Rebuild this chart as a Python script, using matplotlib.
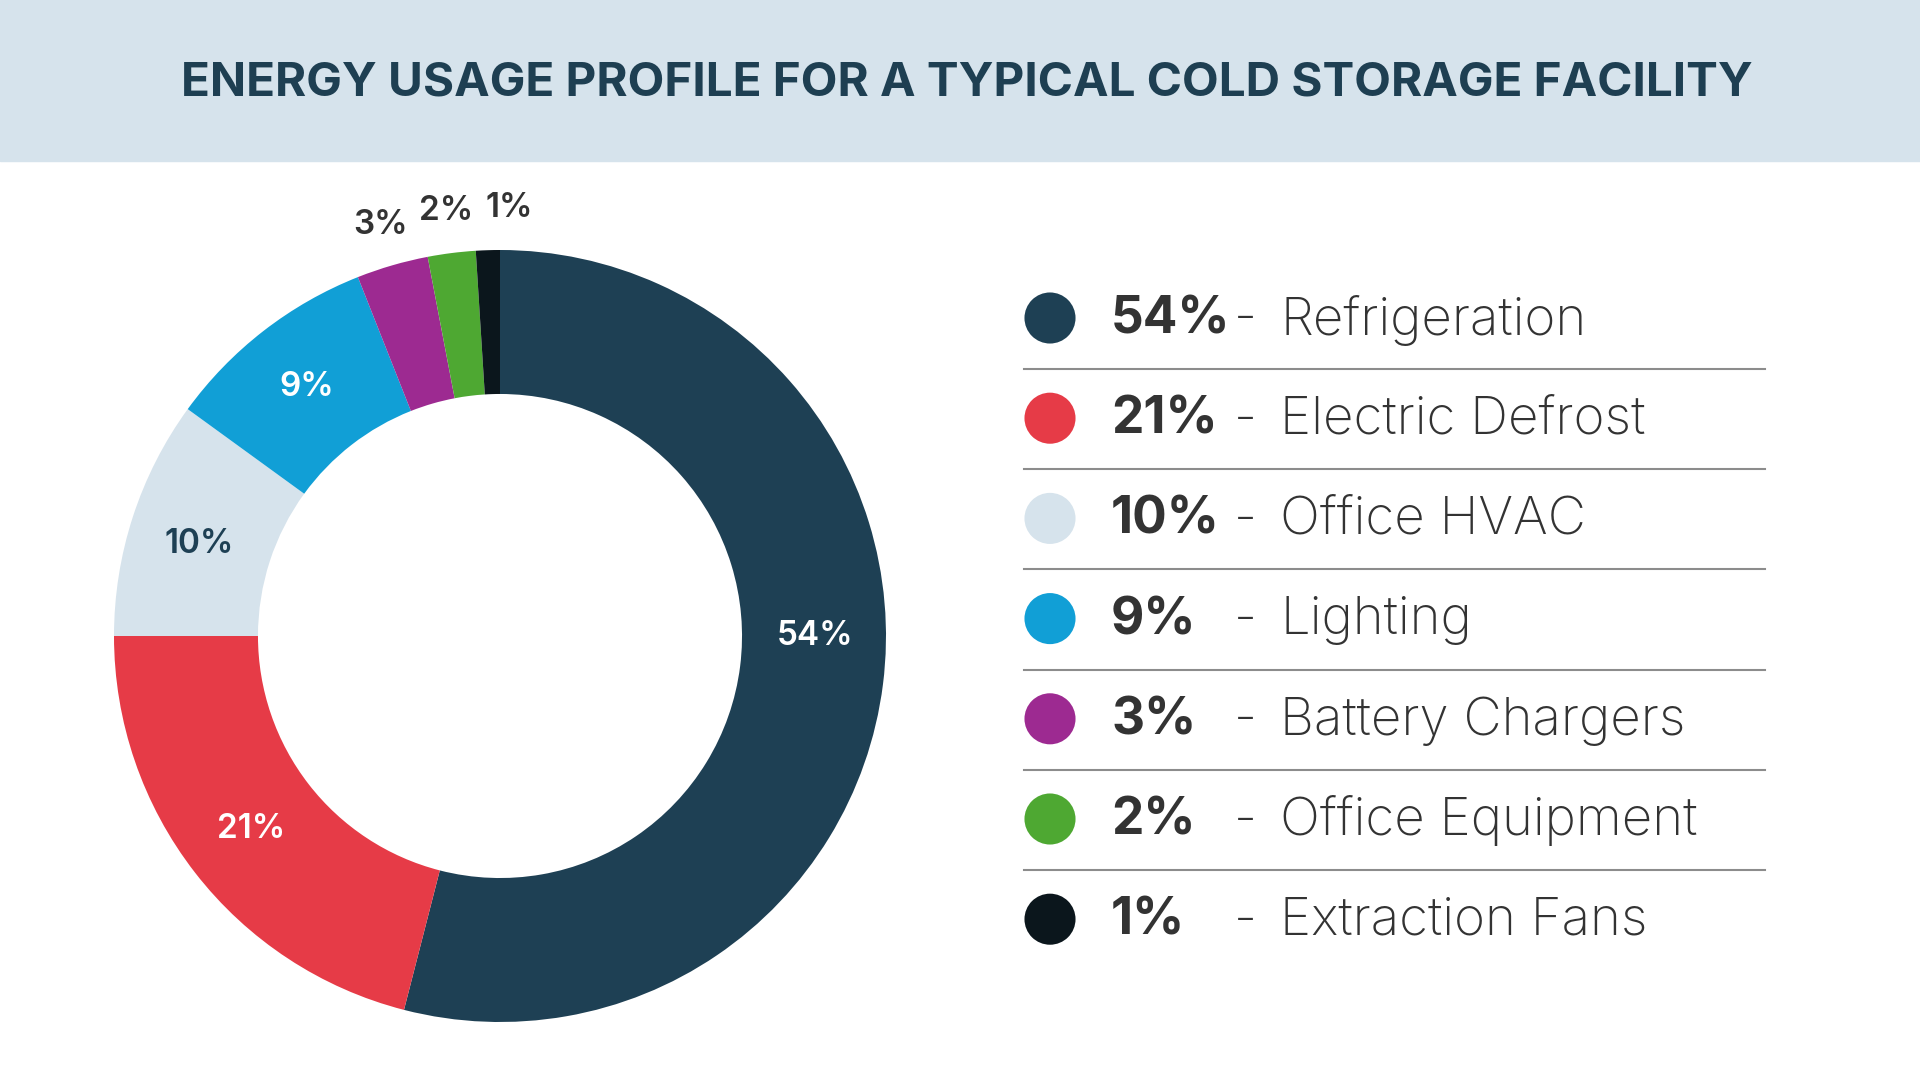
import numpy as np
import matplotlib
matplotlib.use("Agg")
import matplotlib.pyplot as plt
from matplotlib.patches import Rectangle

plt.rcParams["font.family"] = ["Inter", "DejaVu Sans"]

# data
categories = ["Refrigeration", "Electric Defrost", "Office HVAC", "Lighting",
              "Battery Chargers", "Office Equipment", "Extraction Fans"]
shares = [54, 21, 10, 9, 3, 2, 1]
colors = ["#1e4054", "#e63b47", "#d6e3ec", "#119fd6", "#9d2a91", "#4ea832", "#0b161c"]
label_colors = ["white", "white", "#1e4054", "white", "#333333", "#333333", "#333333"]
# labels for the thin slices sit outside the ring
label_outside = [False, False, False, False, True, True, True]
label_nudge_deg = [7.2, 0, 1.0, 0, 0, 0, -3.0]

TITLE = "ENERGY USAGE PROFILE FOR A TYPICAL COLD STORAGE FACILITY"
NAVY = "#1e3f52"
TEXT = "#333333"

W, H = 1920, 1080
fig = plt.figure(figsize=(19.2, 10.8), dpi=100)

# full-figure overlay in pixel coords (y down)
bg = fig.add_axes([0, 0, 1, 1])
bg.set_xlim(0, W)
bg.set_ylim(H, 0)
bg.axis("off")
bg.add_patch(Rectangle((0, 0), W, 161, color="#d6e3ec", zorder=0))
bg.text(W / 2 + 7, 84, TITLE, ha="center", va="center", fontsize=34.3,
        fontweight="bold", color=NAVY)

# donut
cx, cy, R = 500, 636, 386
ax = fig.add_axes([(cx - R) / W, (H - cy - R) / H, 2 * R / W, 2 * R / H])
wedges, _ = ax.pie(shares, colors=colors, startangle=90, counterclock=False,
                   radius=1.0, wedgeprops=dict(width=0.373, linewidth=0))
ax.set_xlim(-1, 1)
ax.set_ylim(-1, 1)
ax.set_aspect("equal")
ax.axis("off")

for w, s, lc, out, nud in zip(wedges, shares, label_colors, label_outside, label_nudge_deg):
    ang = np.deg2rad((w.theta1 + w.theta2) / 2 + nud)
    r = 1.11 if out else 0.815
    ax.text(r * np.cos(ang), r * np.sin(ang), f"{s}%", ha="center", va="center",
            fontsize=24, fontweight="semibold", color=lc, clip_on=False)

# legend rows
row_y0, row_step = 318, 100.2
for i, (cat, s, c) in enumerate(zip(categories, shares, colors)):
    y = row_y0 + i * row_step
    bg.scatter([1050], [y], s=2 * 26 ** 2 * 1.0, color=c, edgecolor="none", zorder=3)
    bg.text(1111, y + 2, f"{s}%", ha="left", va="center", fontsize=37,
            fontweight="bold", color=TEXT)
    bg.text(1245, y + 2, "-", ha="center", va="center", fontsize=37,
            fontweight="light", color=TEXT)
    bg.text(1280, y + 2, cat, ha="left", va="center", fontsize=38,
            fontweight="light", color=TEXT)
    if i < len(categories) - 1:
        bg.plot([1024, 1765], [y + 51, y + 51], color="#8c8c8c", linewidth=1.5)

fig.savefig("out.png", dpi=100)
